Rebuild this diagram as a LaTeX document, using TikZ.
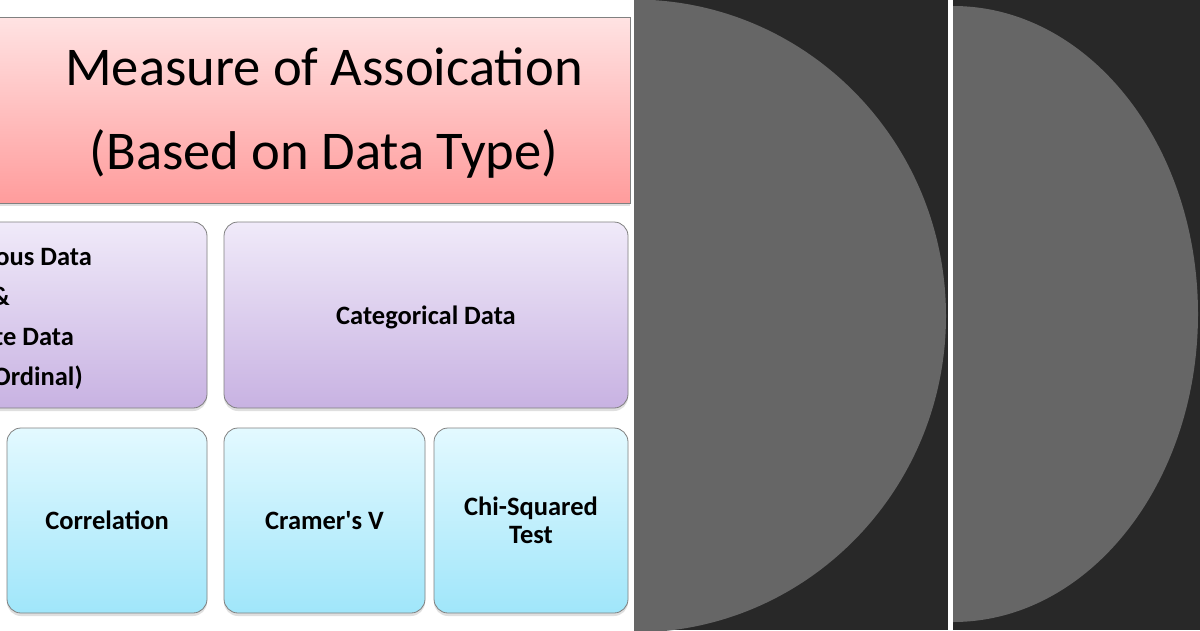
\documentclass[tikz,border=0pt]{standalone}
\usepackage{fontspec}
\setmainfont{Carlito}
\usetikzlibrary{shadows}
\definecolor{pinkTop}{HTML}{FFE3E3}
\definecolor{pinkBot}{HTML}{FF9C9C}
\definecolor{purpTop}{HTML}{F0EAF9}
\definecolor{purpBot}{HTML}{C8B2E2}
\definecolor{cyanTop}{HTML}{E3F9FF}
\definecolor{cyanBot}{HTML}{A0E6FA}
\definecolor{boxline}{HTML}{808080}
\definecolor{darkbg}{HTML}{282828}
\definecolor{disc}{HTML}{666666}
\begin{document}
\begin{tikzpicture}[x=1pt,y=-1pt,
  basebox/.style={draw=boxline, line width=0.8pt, inner sep=0pt, align=center,
    text=black, font=\fontsize{26.5}{28}\selectfont\bfseries,
    drop shadow={shadow xshift=0pt, shadow yshift=-3pt, opacity=0.25}},
  pinkbox/.style={basebox, top color=pinkTop, bottom color=pinkBot},
  purpbox/.style={basebox, rounded corners=14pt, top color=purpTop, bottom color=purpBot, minimum height=186pt},
  cyanbox/.style={basebox, rounded corners=14pt, top color=cyanTop, bottom color=cyanBot, minimum height=185pt},
  titletext/.style={anchor=base, inner sep=0pt, text=black, font=\fontsize{54.6}{60}\selectfont},
  boxtext/.style={inner sep=0pt, align=center, text=black, font=\fontsize{26.5}{40}\selectfont\bfseries}
]
\useasboundingbox (0,0) rectangle (1200,630);
\fill[white] (0,0) rectangle (634,630);

% title box
\node[pinkbox, minimum width=640pt, minimum height=186pt] (head) at (310,110) {};
\node[titletext] (t1) at (324,85) {Measure of Assoication};
\node[titletext] (t2) at (324,169) {(Based on Data Type)};

% data type boxes
\node[purpbox, minimum width=407pt] (cont) at (3.5,315) {};
\node[boxtext] (conttext) at (0.5,318)
  {Continuous Data\\ \&\\ Discrete Data\\ (Rank/Ordinal)};
\node[purpbox, minimum width=404pt, text depth=0pt] (cat) at (426,315) {Categorical Data};

% measure boxes
\node[cyanbox, minimum width=200pt] (corr) at (107,520.5) {Correlation};
\node[cyanbox, minimum width=201pt] (cram) at (324.5,520.5) {Cramer\textquotesingle s V};
\node[cyanbox, minimum width=194pt] (chi) at (531,520.5) {Chi-Squared\\ Test};

% right dark panel
\fill[darkbg] (634,0) rectangle (1200,630);
\fill[white] (948,0) rectangle (953,630);
\begin{scope}
  \clip (634,0) rectangle (948,630);
  \fill[disc] (634,316) ellipse [x radius=312, y radius=316.5];
\end{scope}
\begin{scope}
  \clip (953,0) rectangle (1200,630);
  \fill[disc] (953,314) ellipse [x radius=245, y radius=308];
\end{scope}
\end{tikzpicture}
\end{document}
